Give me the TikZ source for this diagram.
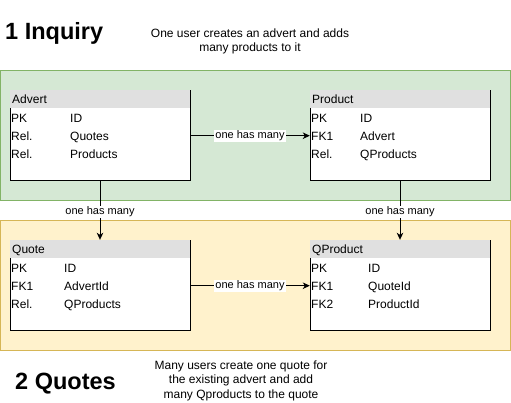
\documentclass[tikz,border=0pt]{standalone}
\usepackage{fontspec}
\setmainfont{Liberation Sans}
\usetikzlibrary{arrows.meta}
\definecolor{grnfill}{HTML}{D5E8D4}
\definecolor{grnline}{HTML}{82B366}
\definecolor{ylwfill}{HTML}{FFF2CC}
\definecolor{ylwline}{HTML}{D6B656}
\definecolor{hdrgray}{HTML}{E0E0E0}
\newcommand\mytable[5]{%
  % #1 name, #2 left x, #3 top y, #4 title, #5 second column x
  \node[tbl] (#1) at (#2+90,#3+45) {};
  \fill[hdrgray] (#2,#3) rectangle ++(180,18);
  \fill[white] (#2,#3+18) rectangle ++(180,72);
  \draw[tblline] (#2+180,#3) -- ++(0,90) -- ++(-180,0) -- ++(0,-72);
  \node[celltxt] (#1-title) at (#2+2,#3+9) {#4};
  \node[rowbox] (#1-r1) at (#2+90,#3+27.7) {};
  \node[rowbox] (#1-r2) at (#2+90,#3+45.7) {};
  \node[rowbox] (#1-r3) at (#2+90,#3+63.7) {};
}
\newcommand\myrow[5]{%
  % #1 row node, #2 left x, #3 second col x, #4 key, #5 value
  \node[celltxt] (#1-k) at (#1.west -| #2,0) {#4};
  \node[celltxt] (#1-v) at (#1.west -| #3,0) {#5};
}
\begin{document}
\begin{tikzpicture}[x=1pt,y=-1pt,
  tbl/.style={minimum width=180pt,minimum height=90pt,inner sep=0pt,draw=none},
  rowbox/.style={minimum width=180pt,minimum height=18pt,inner sep=0pt,draw=none},
  tblline/.style={draw=black,line width=1pt},
  celltxt/.style={anchor=west,inner sep=0pt,text height=8.6pt,text depth=0pt,font=\fontsize{12}{14.4}\selectfont},
  conn/.style={draw=black,line width=1pt,-{Stealth[length=7pt,width=6.5pt,inset=2pt]}},
  lbl/.style={fill=white,inner sep=1pt,font=\fontsize{11}{13}\selectfont},
  title/.style={anchor=base west,inner sep=0pt,font=\fontsize{23.5}{28}\selectfont\bfseries},
  note/.style={anchor=north,inner sep=0pt,align=center,font=\fontsize{12}{14.2}\selectfont}]
\useasboundingbox (0,0) rectangle (511,402);
% bands
\draw[fill=grnfill,draw=grnline,line width=1pt] (0.5,70.5) rectangle (510.5,200.5);
\draw[fill=ylwfill,draw=ylwline,line width=1pt] (0.5,220.5) rectangle (510.5,350.5);
% titles
\node[title] (t1) at (5,39.3) {1 Inquiry};
\node[title] (t2) at (15,389.5) {2 Quotes};
\node[note] (n1) at (250,28.6) {One user creates an advert and adds\\many products to it};
\node[note] (n2) at (241,360.8) {Many users create one quote for\\the existing advert and add\\many Qproducts to the quote};
% tables
\mytable{advert}{10}{90}{Advert}{70}
\myrow{advert-r1}{11}{70}{PK}{ID}
\myrow{advert-r2}{11}{70}{Rel.}{Quotes}
\myrow{advert-r3}{11}{70}{Rel.}{Products}
\mytable{product}{310}{90}{Product}{360}
\myrow{product-r1}{311}{360}{PK}{ID}
\myrow{product-r2}{311}{360}{FK1}{Advert}
\myrow{product-r3}{311}{360}{Rel.}{QProducts}
\mytable{quote}{10}{240}{Quote}{64}
\myrow{quote-r1}{11}{64}{PK}{ID}
\myrow{quote-r2}{11}{64}{FK1}{AdvertId}
\myrow{quote-r3}{11}{64}{Rel.}{QProducts}
\mytable{qproduct}{310}{240}{QProduct}{368}
\myrow{qproduct-r1}{311}{368}{PK}{ID}
\myrow{qproduct-r2}{311}{368}{FK1}{QuoteId}
\myrow{qproduct-r3}{311}{368}{FK2}{ProductId}
% connectors
\draw[conn] (advert-r2.east) -- node[lbl] {one has many} (product-r2.west);
\draw[conn] (quote-r2.east) -- node[lbl] {one has many} (qproduct-r2.west);
\draw[conn] (advert.south) -- node[lbl,pos=0.53] {one has many} (quote.north);
\draw[conn] (product.south) -- node[lbl,pos=0.53] {one has many} (qproduct.north);
\end{tikzpicture}
\end{document}
